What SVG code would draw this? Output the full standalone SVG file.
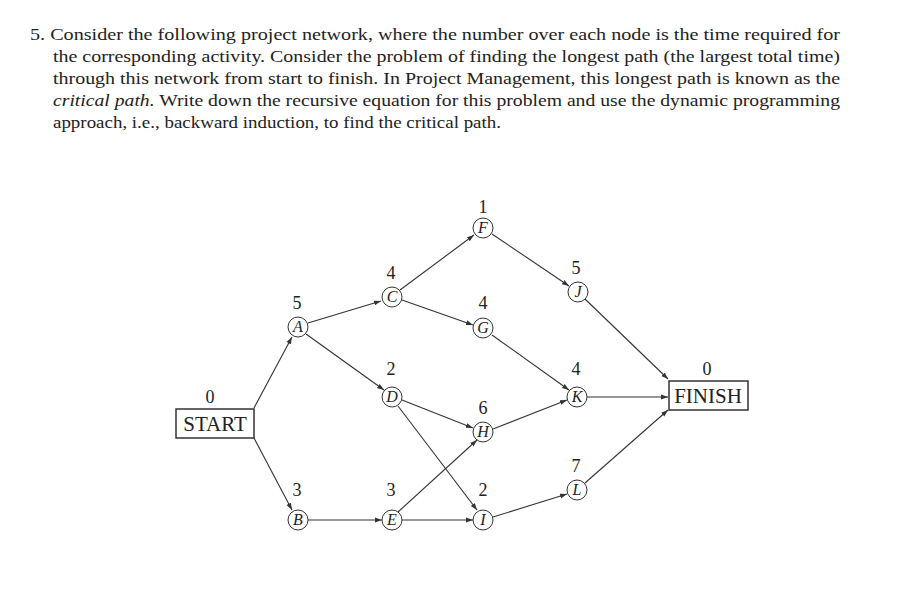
<svg xmlns="http://www.w3.org/2000/svg" width="900" height="600" viewBox="0 0 900 600">
<style>
.t{font-family:"Liberation Serif",serif;font-size:17.5px;fill:#222}
.n{font-family:"Liberation Serif",serif;font-size:18px;fill:#222;text-anchor:middle}
.big{font-size:21px}
.l{font-family:"Liberation Serif",serif;font-size:16px;font-style:italic;fill:#222;text-anchor:middle}
.c{fill:#fff;stroke:#333;stroke-width:1}
.b{fill:#fff;stroke:#333;stroke-width:1.5}
.e{stroke:#333;stroke-width:1.1;fill:none;marker-end:url(#a)}
</style>
<defs><marker id="a" viewBox="0 0 10 10" refX="10" refY="5" markerWidth="7" markerHeight="7" orient="auto" markerUnits="userSpaceOnUse"><path d="M0,1.5L10,5L0,8.5z" fill="#333"/></marker></defs>
<rect width="900" height="600" fill="#fff"/>
<g id="question">
<text class="t" x="30" y="40" textLength="810" lengthAdjust="spacingAndGlyphs">5. Consider the following project network, where the number over each node is the time required for</text>
<text class="t" x="53" y="62" textLength="787" lengthAdjust="spacingAndGlyphs">the corresponding activity. Consider the problem of finding the longest path (the largest total time)</text>
<text class="t" x="53" y="84" textLength="787" lengthAdjust="spacingAndGlyphs">through this network from start to finish. In Project Management, this longest path is known as the</text>
<text class="t" x="53" y="106" textLength="787" lengthAdjust="spacingAndGlyphs"><tspan font-style="italic">critical path.</tspan> Write down the recursive equation for this problem and use the dynamic programming</text>
<text class="t" x="53" y="128" textLength="448" lengthAdjust="spacingAndGlyphs">approach, i.e., backward induction, to find the critical path.</text>
</g>
<g id="connectors">
<path class="e" d="M254,408L292,337"/>
<path class="e" d="M254,438L292,510"/>
<path class="e" d="M308,323L381,301"/>
<path class="e" d="M306,334L384,390"/>
<path class="e" d="M400,290L474,235"/>
<path class="e" d="M402,300L473,325"/>
<path class="e" d="M402,400L473,428"/>
<path class="e" d="M398,406L477,510"/>
<path class="e" d="M308,520L382,520"/>
<path class="e" d="M398,512L477,440"/>
<path class="e" d="M402,520L473,520"/>
<path class="e" d="M492,234L569,286"/>
<path class="e" d="M492,335L569,390"/>
<path class="e" d="M493,429L567,400"/>
<path class="e" d="M493,517L567,494"/>
<path class="e" d="M585,299L668,379"/>
<path class="e" d="M587,397L668,397"/>
<path class="e" d="M585,483L668,410"/>
</g>
<g id="START"><text class="n" x="210" y="403">0</text><rect class="b" x="176" y="409" width="78" height="29"/><text class="n big" x="215" y="431">START</text></g>
<g id="FINISH"><text class="n" x="707" y="375">0</text><rect class="b" x="669" y="381" width="79" height="29"/><text class="n big" x="708" y="403">FINISH</text></g>
<g id="A"><text class="n" x="297" y="309">5</text><circle class="c" cx="298" cy="327" r="10"/><text class="l" x="298" y="332">A</text></g>
<g id="B"><text class="n" x="297" y="496">3</text><circle class="c" cx="298" cy="520" r="10"/><text class="l" x="298" y="525">B</text></g>
<g id="C"><text class="n" x="391" y="279">4</text><circle class="c" cx="392" cy="297" r="10"/><text class="l" x="392" y="302">C</text></g>
<g id="D"><text class="n" x="391" y="375">2</text><circle class="c" cx="392" cy="397" r="10"/><text class="l" x="392" y="402">D</text></g>
<g id="E"><text class="n" x="391" y="496">3</text><circle class="c" cx="392" cy="520" r="10"/><text class="l" x="392" y="525">E</text></g>
<g id="F"><text class="n" x="483" y="213">1</text><circle class="c" cx="483" cy="228" r="10"/><text class="l" x="483" y="233">F</text></g>
<g id="G"><text class="n" x="483" y="309">4</text><circle class="c" cx="483" cy="328" r="10"/><text class="l" x="483" y="333">G</text></g>
<g id="H"><text class="n" x="483" y="414">6</text><circle class="c" cx="483" cy="432" r="10"/><text class="l" x="483" y="437">H</text></g>
<g id="I"><text class="n" x="483" y="496">2</text><circle class="c" cx="483" cy="520" r="10"/><text class="l" x="483" y="525">I</text></g>
<g id="J"><text class="n" x="576" y="274">5</text><circle class="c" cx="578" cy="292" r="10"/><text class="l" x="578" y="297">J</text></g>
<g id="K"><text class="n" x="576" y="375">4</text><circle class="c" cx="577" cy="397" r="10"/><text class="l" x="577" y="402">K</text></g>
<g id="L"><text class="n" x="576" y="472">7</text><circle class="c" cx="577" cy="490" r="10"/><text class="l" x="577" y="495">L</text></g>
</svg>
